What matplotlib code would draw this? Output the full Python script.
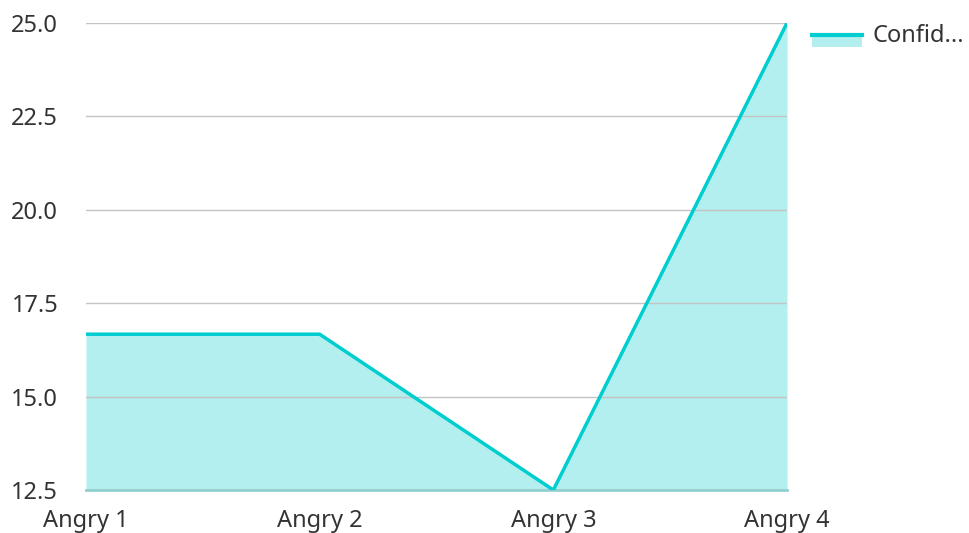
import matplotlib.pyplot as plt
from matplotlib.patches import Rectangle
from matplotlib.lines import Line2D

plt.rcParams['font.family'] = ['Noto Sans', 'DejaVu Sans']

# data
categories = ["Angry 1", "Angry 2", "Angry 3", "Angry 4"]
confidence = [16.67, 16.67, 12.5, 25.0]
y_ticks = [12.5, 15.0, 17.5, 20.0, 22.5, 25.0]
series_name = "Confid..."

line_col = "#00cdd0"
fill_col = "#b2efee"

fig = plt.figure(figsize=(9.69, 5.33), dpi=100)
ax = fig.add_axes([86 / 969, 43 / 533, (787 - 86) / 969, (490 - 23) / 533])

x = list(range(len(categories)))
ax.fill_between(x, confidence, y_ticks[0], color=fill_col, lw=0, zorder=2)
ax.plot(x, confidence, color=line_col, lw=2.5, zorder=3, solid_joinstyle="miter")

ax.set_xlim(0, len(categories) - 1)
ax.set_ylim(y_ticks[0], y_ticks[-1])
ax.set_yticks(y_ticks)
ax.set_yticklabels([f"{v:.1f}" for v in y_ticks])
ax.set_xticks(x)
ax.set_xticklabels(categories)

ax.grid(axis="y", color="#c4c4c4", lw=1, zorder=1)
ax.set_axisbelow(False)
for s in ax.spines.values():
    s.set_visible(False)
ax.tick_params(axis="both", length=0, labelsize=17, labelcolor="#333333")
ax.tick_params(axis="y", pad=20)
ax.tick_params(axis="x", pad=14)
ax.axhline(y_ticks[0], color="#8fd0d0", lw=2, zorder=2.5, clip_on=False)

# legend drawn manually
fig.patches.append(Rectangle((812 / 969, (533 - 47) / 533), 50 / 969, 12 / 533,
                             transform=fig.transFigure, color=fill_col, lw=0))
fig.lines.append(Line2D([812 / 969, 862 / 969], [(533 - 35) / 533] * 2,
                        transform=fig.transFigure, color=line_col, lw=3))
fig.text(872 / 969, (533 - 36) / 533, series_name, fontsize=17, color="#333333", va="center")

fig.savefig("out.png", dpi=100)
